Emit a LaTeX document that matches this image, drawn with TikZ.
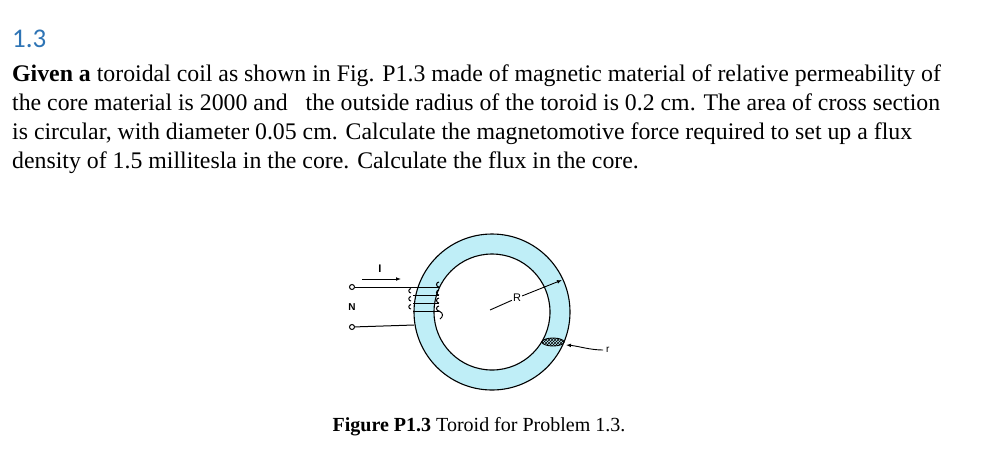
\documentclass[tikz,border=0pt]{standalone}
\usepackage{fontspec}
\setmainfont{Liberation Serif}
\newfontfamily\calib{Carlito}
\newfontfamily\figsans{Liberation Sans}
\usetikzlibrary{arrows.meta,patterns}
\definecolor{ttl}{HTML}{2E74B5}
\definecolor{core}{HTML}{BFEEF7}
\begin{document}
\begin{tikzpicture}[x=1pt,y=-1pt,
  body/.style={anchor=base west,inner sep=0pt,font=\fontsize{23.8}{28}\selectfont},
  wire/.style={line width=1pt},
  term/.style={circle,draw,line width=1pt,inner sep=0pt,minimum size=5pt}]
\useasboundingbox (0,0) rectangle (1008,451);
\node[anchor=base west,inner sep=0pt,text=ttl,font=\calib\fontsize{27}{30}\selectfont] (t) at (12,47) {1.3};
\node[body] (l1) at (12,81) {\textbf{Given a} toroidal coil as shown in Fig. P1.3 made of magnetic material of relative permeability of};
\node[body] (l2) at (12,110) {the core material is 2000 and \ \ the outside radius of the toroid is 0.2 cm. The area of cross section};
\node[body] (l3) at (12,139) {is circular, with diameter 0.05 cm. Calculate the magnetomotive force required to set up a flux};
\node[body] (l4) at (12,168) {density of 1.5 millitesla in the core. Calculate the flux in the core.};
% toroid
\coordinate (c) at (492,312);
\fill[core,even odd rule] (c) circle (78) (c) circle (58);
\draw[line width=1.1pt] (c) circle (78) (c) circle (58);
% terminals & wires
\node[term] (ta) at (352,287) {};
\node[term] (tb) at (352,327) {};
\coordinate (wa) at (440,287);
\coordinate (wb) at (414,325);
\draw[wire] (ta) -- (wa);
\draw[wire] (tb) -- (wb);
\foreach \y in {287,295,303,311}{
  \draw[wire] (413,\y) -- (439,\y);
  \draw[wire] (439,\y) arc (-90:90:-2.5);
}
\foreach \y in {293,301,309}{
  \draw[wire] (411,\y) arc (90:270:2.2);
}
\draw[wire] (439,311) .. controls (444,313) and (443,317) .. (440,319);
\coordinate (ia) at (362,279);
\coordinate (ib) at (401,279);
\draw[line width=0.9pt,-{Latex[length=5pt]}] (ia) -- (ib);
\node[font=\figsans\bfseries\fontsize{11}{12}\selectfont] (I) at (380,269) {I};
\node[font=\figsans\bfseries\fontsize{10}{12}\selectfont] (N) at (352,307) {N};
% R
\node[font=\figsans\fontsize{11}{12}\selectfont,inner sep=1pt] (R) at (517,298) {R};
\coordinate (rc) at (490,310);
\coordinate (ro) at (562,280);
\draw[line width=0.9pt] (rc) -- (R);
\draw[line width=0.9pt,-{Latex[length=5pt]}] (R) -- (ro);
% r cross-section
\fill[pattern=crosshatch] (553,342) ellipse (11 and 4);
\draw[line width=0.9pt] (553,342) ellipse (11 and 4);
\coordinate (rt) at (603,350);
\coordinate (rh) at (566,345);
\draw[line width=0.9pt,-{Latex[length=5pt]}] (rt) .. controls (590,350) and (578,346) .. (rh);
\node[font=\figsans\fontsize{10}{11}\selectfont,anchor=west,inner sep=1pt] (r) at (605,350) {r};
% caption
\node[anchor=base,inner sep=0pt,font=\fontsize{20}{23}\selectfont] (cap) at (479,431) {\textbf{Figure P1.3} Toroid for Problem 1.3.};
\end{tikzpicture}
\end{document}
